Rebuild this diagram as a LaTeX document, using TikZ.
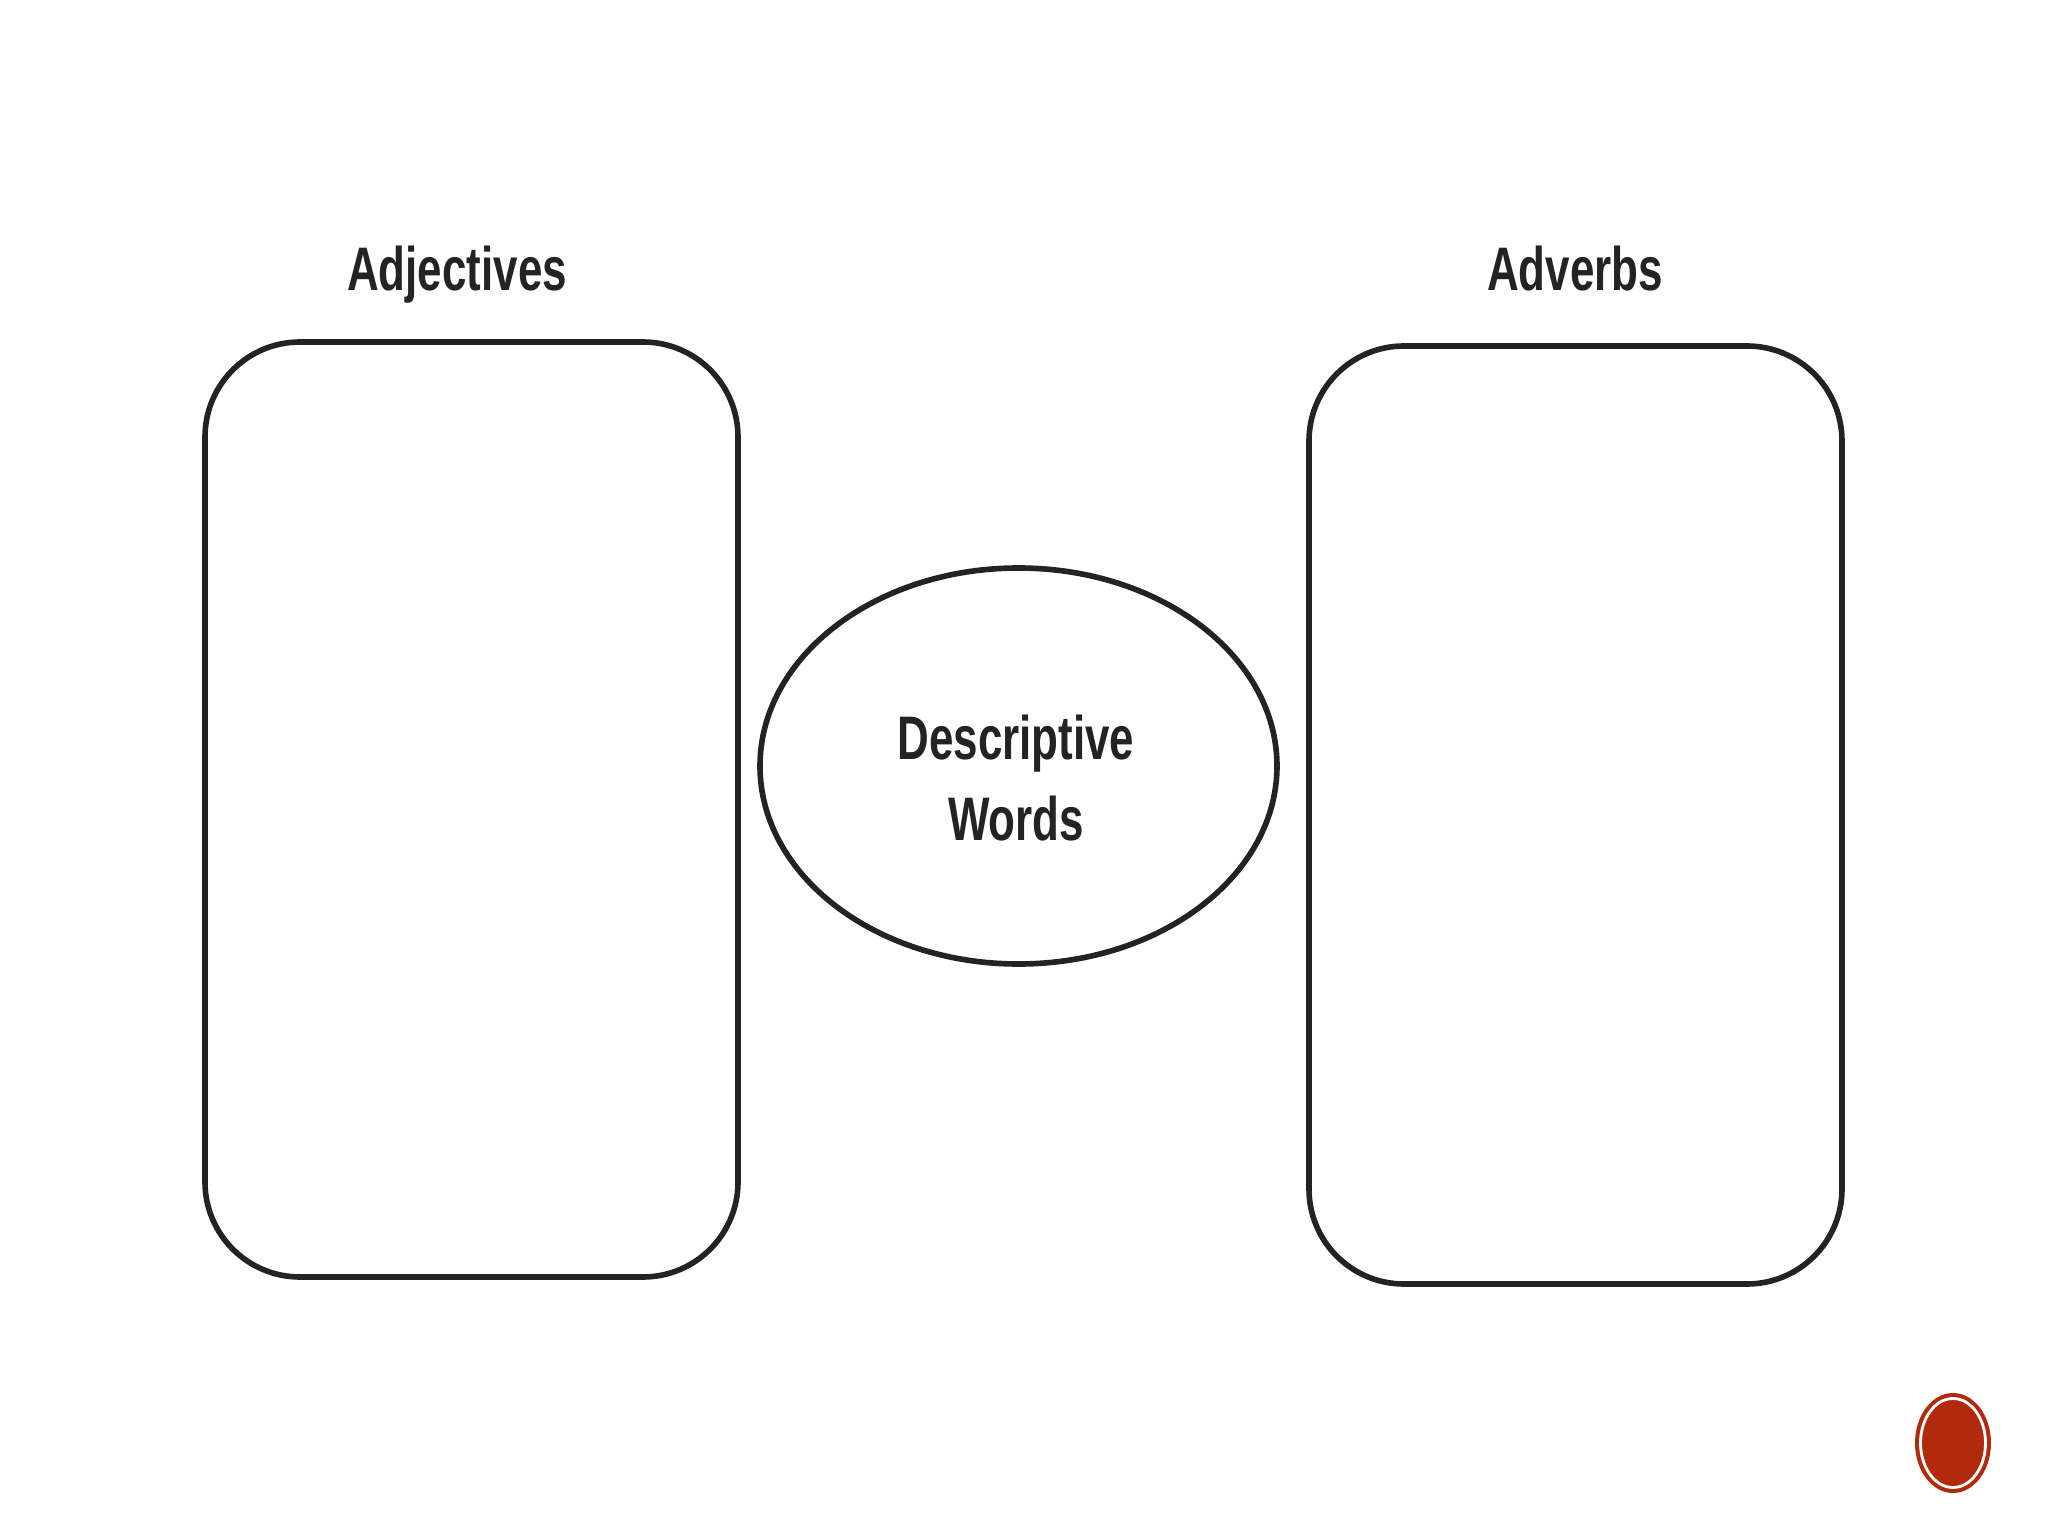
\documentclass[tikz,border=0pt]{standalone}
\usepackage{fontspec}
\setmainfont{Liberation Sans}
\usetikzlibrary{positioning,shapes.geometric}
\definecolor{badge}{RGB}{178,42,12}
\definecolor{ink}{RGB}{35,35,35}
\newcommand{\tallword}[1]{\scalebox{1}[1.4]{#1}}
\tikzset{
	box/.style={draw=ink,line width=1.6pt,rounded corners=0.95cm,minimum width=5.33cm,minimum height=9.35cm},
	heading/.style={text=ink,font=\bfseries\fontsize{12.5}{23}\selectfont}
}
\begin{document}
\begin{tikzpicture}[line width=1.6pt]
		\useasboundingbox (0,0) rectangle (20.48,-15.36);
		\node[box] (adjbox) at (4.715,-8.095) {};
		\node[box,minimum height=9.38cm] (advbox) at (15.755,-8.15) {};
		\node[heading] (adj) at (4.57,-2.75) {\tallword{Adjectives}};
		\node[heading] (adv) at (15.75,-2.69) {\tallword{Adverbs}};
		\node[draw=ink,ellipse,line width=1.6pt,minimum width=5.17cm,minimum height=3.96cm] (desc) at (10.185,-7.66) {};
		\node[heading,align=center] (descw) at (10.16,-7.78) {\tallword{Descriptive}\\\tallword{Words}};
		%\draw (adjbox) -- (desc) -- (advbox);
		\node[ellipse,fill=badge,minimum width=0.76cm,minimum height=1.0cm,inner sep=0pt] (badge) at (19.53,-14.43) {};
		\draw[white,line width=0.8pt] (badge.center) ellipse (0.325cm and 0.445cm);
\end{tikzpicture}
\end{document}
